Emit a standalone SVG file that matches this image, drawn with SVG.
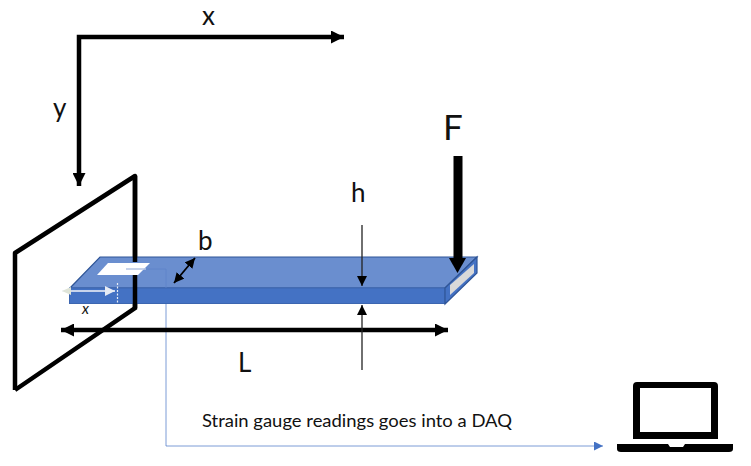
<svg xmlns="http://www.w3.org/2000/svg" width="751" height="466" viewBox="0 0 751 466">
<style>
text{font-family:Lato,"Open Sans","Liberation Sans",sans-serif;fill:#111}
.thick{fill:none;stroke:#000;stroke-width:4.5}
.thin{fill:none;stroke:#222;stroke-width:1.3}
</style>
<defs>
<marker id="a" viewBox="0 0 14 14" refX="14" refY="7" markerWidth="14" markerHeight="13" markerUnits="userSpaceOnUse" orient="auto-start-reverse"><path d="M0 0L14 7L0 14Z" fill="#000"/></marker>
<marker id="s" viewBox="0 0 10 10" refX="10" refY="5" markerWidth="10" markerHeight="10" markerUnits="userSpaceOnUse" orient="auto-start-reverse"><path d="M0 0L10 5L0 10Z" fill="#000"/></marker>
<marker id="bl" viewBox="0 0 10 10" refX="10" refY="5" markerWidth="10" markerHeight="9" markerUnits="userSpaceOnUse" orient="auto"><path d="M0 0L10 5L0 10Z" fill="#4472c4"/></marker>
</defs>
<g id="wall-back"><path class="thick" d="M15 390V253L135 176V308" stroke-linejoin="round"/></g>
<g id="beam">
<path d="M70 288L100 257H477L445 288Z" fill="#6a8ecf" stroke="#2f5597" stroke-width="1.2"/>
<rect x="69.500" y="288" width="375.500" height="15.500" fill="#4472c4" stroke="#3c66b0"/>
<path d="M445 288L477 257V273L445 304Z" fill="#4472c4" stroke="#2f5597" stroke-width="1.2"/>
<path d="M450 285L474 264V273L450 295Z" fill="#d9d9d9"/>
</g>
<g id="wall-front"><path d="M135 176V262M135 275V308L15 390" class="thick"/></g>
<g id="strain-gauge">
<path d="M97 275L108 263H150L138 275Z" fill="#fff"/>
<path d="M126 269H146" stroke="#b4c4e4" stroke-width="1.500"/>
<path d="M146 269H166V288" fill="none" stroke="#5e83c9" stroke-width="0.800"/>
<path d="M117.500 283V303" stroke="#e8edf6" stroke-width="1.200" stroke-dasharray="2 1.500"/>
<path d="M62 291H115" stroke="#f4f6fa" stroke-width="1.300"/>
<path d="M62 291L71 287V295Z" fill="#dfe4d8"/>
<path d="M105 286L115 291L105 296Z" fill="#e6ebf4"/>
</g>
<g id="connectors">
<path d="M166 304V446H603" fill="none" stroke="#4472c4" stroke-opacity="0.700" stroke-width="1" marker-end="url(#bl)"/>
<path class="thick" d="M79 186V37H344" marker-start="url(#a)" marker-end="url(#a)"/>
<path class="thick" d="M61 330H448" marker-start="url(#a)" marker-end="url(#a)"/>
<path d="M458 156V262" fill="none" stroke="#000" stroke-width="9"/>
<path d="M449 258H466L457.500 273Z" fill="#000"/>
<path class="thin" d="M362 225V286" marker-end="url(#s)"/>
<path class="thin" d="M362 370V305" marker-end="url(#s)"/>
<path d="M174 283L195 258" fill="none" stroke="#000" stroke-width="1.800" marker-start="url(#s)" marker-end="url(#s)"/>
</g>
<g id="labels">
<text x="202" y="25" font-size="26">x</text>
<text x="53" y="117" font-size="26">y</text>
<text x="443" y="140" font-size="35">F</text>
<text x="351" y="202" font-size="26">h</text>
<text x="198" y="250" font-size="26">b</text>
<text x="238" y="372" font-size="26">L</text>
<text x="82" y="314" font-size="15" font-style="italic">x</text>
<text x="202" y="427" font-size="17" textLength="310" lengthAdjust="spacingAndGlyphs">Strain gauge readings goes into a DAQ</text>
</g>
<g id="laptop">
<path fill-rule="evenodd" d="M633 386Q633 382 637 382H714Q718 382 718 386V439H633ZM640 388V432H711V388Z" fill="#000"/>
<path d="M617 444H668L670 447H683L685 444H733V449Q733 452 729 452H621Q617 452 617 449Z" fill="#000"/>
</g>
</svg>
